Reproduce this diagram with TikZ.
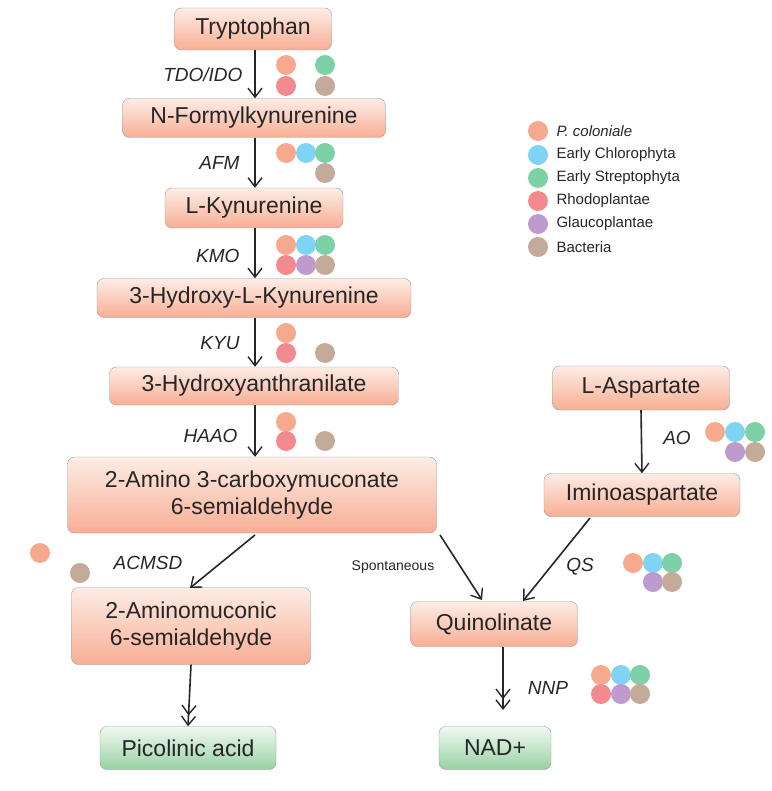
\documentclass[tikz,border=0pt]{standalone}
\usepackage{fontspec}
\setmainfont{Liberation Sans}
\usetikzlibrary{arrows.meta}
\definecolor{cS}{HTML}{F7A98D}\definecolor{cB}{HTML}{7FD3F3}\definecolor{cG}{HTML}{7DD1A6}
\definecolor{cP}{HTML}{F28A8F}\definecolor{cU}{HTML}{BE9BCE}\definecolor{cR}{HTML}{C4AA98}
\definecolor{bxT}{HTML}{FDEDE6}\definecolor{bxB}{HTML}{F8AE94}
\definecolor{gnT}{HTML}{F2F9F3}\definecolor{gnB}{HTML}{98D1A3}
\tikzset{
 box/.style={draw=gray!80,rounded corners=7pt,top color=bxT,bottom color=bxB,align=center,
   font=\fontsize{23}{27}\selectfont,inner sep=0pt,text=black!85},
 gbox/.style={box,top color=gnT,bottom color=gnB},
 arr/.style={-{Straight Barb[length=9pt,width=14pt,line width=1.4pt]},line width=1.6pt,black!85},
 darr/.style={-{Straight Barb[length=9pt,width=14pt,line width=1.4pt]Straight Barb[length=9pt,width=14pt,line width=1.4pt]},line width=1.6pt,black!85},
 enz/.style={font=\fontsize{19}{22}\selectfont\itshape,text=black!85},
 dot/.style={circle,minimum size=20pt,inner sep=0pt},
 leg/.style={font=\fontsize{15}{18}\selectfont,anchor=west,text=black!85}
}
\newcommand{\dt}[3]{\node[dot,fill=#1] at (#2,#3) {};}
\begin{document}
\begin{tikzpicture}[x=1pt,y=-1pt]
\useasboundingbox (0,0) rectangle (771,791);
\node[box,minimum width=157pt,minimum height=42pt] (t) at (253,29) {Tryptophan};
\node[box,minimum width=263pt,minimum height=39pt] (n) at (254,118) {N-Formylkynurenine};
\node[box,minimum width=178pt,minimum height=40pt] (l) at (254,208) {L-Kynurenine};
\node[box,minimum width=314pt,minimum height=39pt] (h) at (254,298) {3-Hydroxy-L-Kynurenine};
\node[box,minimum width=289pt,minimum height=38pt] (ha) at (254,386) {3-Hydroxyanthranilate};
\node[box,minimum width=369pt,minimum height=76pt] (am) at (252,495) {2-Amino 3-carboxymuconate\\6-semialdehyde};
\node[box,minimum width=239pt,minimum height=77pt] (mu) at (191,626) {2-Aminomuconic\\6-semialdehyde};
\node[gbox,minimum width=176pt,minimum height=43pt] (pa) at (188,748) {Picolinic acid};
\node[box,minimum width=177pt,minimum height=44pt] (as) at (641,388) {L-Aspartate};
\node[box,minimum width=196pt,minimum height=43pt] (im) at (642,495) {Iminoaspartate};
\node[box,minimum width=167pt,minimum height=45pt] (q) at (494,624) {Quinolinate};
\node[gbox,minimum width=112pt,minimum height=43pt] (nad) at (495,748) {NAD+};
\coordinate (a1) at (255,535);
\coordinate (a2) at (440,535);
\coordinate (a3) at (590,518);
\draw[arr] (t.south -| 255,0) -- (n.north -| 255,0);
\draw[arr] (n.south -| 255,0) -- (l.north -| 255,0);
\draw[arr] (l.south -| 255,0) -- (h.north -| 255,0);
\draw[arr] (h.south -| 255,0) -- (ha.north -| 255,0);
\draw[arr] (ha.south -| 255,0) -- (am.north -| 255,0);
\draw[arr] (as.south) -- (im.north);
\draw[arr] (a1) -- (190,588);
\draw[arr] (a2) -- (482,600);
\draw[arr] (a3) -- (523,601);
\draw[darr] (mu.south) -- (pa.north);
\draw[darr] (q.south -| 503,0) -- (503,710);
\node[enz,anchor=east] at (246,75) {TDO/IDO};
\node[enz,anchor=east] at (243,163) {AFM};
\node[enz,anchor=east] at (243,256) {KMO};
\node[enz,anchor=east] at (243,343) {KYU};
\node[enz,anchor=east] at (241,436) {HAAO};
\node[enz] at (148,563) {ACMSD};
\node[font=\fontsize{14}{17}\selectfont,text=black!85] at (393,567) {Spontaneous};
\node[enz] at (580,567) {QS};
\node[enz] at (677,438) {AO};
\node[enz] at (548,688) {NNP};
\dt{cS}{286}{65}\dt{cP}{286}{86}\dt{cG}{325}{65}\dt{cR}{325}{86}
\dt{cS}{286}{153}\dt{cB}{306}{153}\dt{cG}{325}{153}\dt{cR}{325}{173}
\dt{cS}{286}{245}\dt{cB}{306}{245}\dt{cG}{325}{245}\dt{cP}{286}{265}\dt{cU}{306}{265}\dt{cR}{325}{265}
\dt{cS}{286}{333}\dt{cP}{286}{353}\dt{cR}{325}{353}
\dt{cS}{286}{422}\dt{cP}{286}{441}\dt{cR}{325}{441}
\dt{cS}{715}{432}\dt{cB}{735}{432}\dt{cG}{755}{432}\dt{cU}{735}{452}\dt{cR}{755}{452}
\dt{cS}{40}{553}\dt{cR}{80}{573}
\dt{cS}{633}{563}\dt{cB}{653}{563}\dt{cG}{672}{563}\dt{cU}{653}{582}\dt{cR}{672}{582}
\dt{cS}{601}{675}\dt{cB}{621}{675}\dt{cG}{640}{675}\dt{cP}{601}{694}\dt{cU}{621}{694}\dt{cR}{640}{694}
\dt{cS}{538}{131}\dt{cB}{538}{155}\dt{cG}{538}{178}\dt{cP}{538}{201}\dt{cU}{538}{224}\dt{cR}{538}{247}
\node[leg] at (553,131) {\itshape P. coloniale};
\node[leg] at (553,155) {Early Chlorophyta};
\node[leg] at (553,178) {Early Streptophyta};
\node[leg] at (553,201) {Rhodoplantae};
\node[leg] at (553,224) {Glaucoplantae};
\node[leg] at (553,247) {Bacteria};
\end{tikzpicture}
\end{document}
